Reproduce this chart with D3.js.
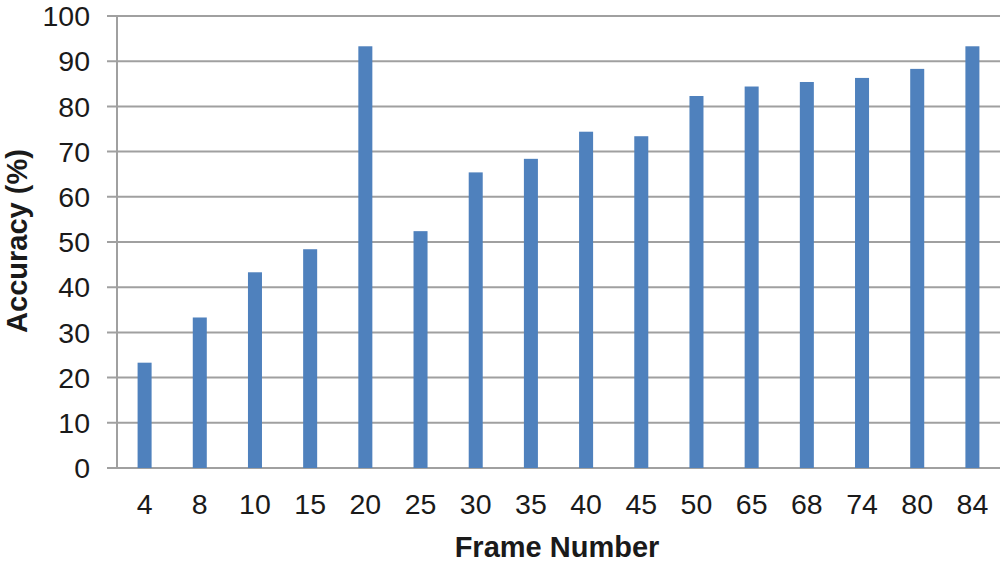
<!DOCTYPE html>
<html>
<head>
<meta charset="utf-8">
<script src="https://cdn.jsdelivr.net/npm/d3@7"></script>
<style>
  body { margin: 0; background: #fff; }
  svg { display: block; font-family: "Liberation Sans", Arial, sans-serif; }
</style>
</head>
<body>
<div id="chart"></div>
<script>
// datos
const frames = ["4", "8", "10", "15", "20", "25", "30", "35", "40", "45", "50", "65", "68", "74", "80", "84"];
const accuracy = [23.3, 33.3, 43.3, 48.4, 93.3, 52.4, 65.4, 68.4, 74.4, 73.4, 82.3, 84.4, 85.4, 86.3, 88.3, 93.3];
const yTicks = [0, 10, 20, 30, 40, 50, 60, 70, 80, 90, 100];

const width = 1000;
const height = 564;
const margin = { top: 16, right: 0, bottom: 96, left: 117 };

const svg = d3.select("#chart")
  .append("svg")
  .attr("width", width)
  .attr("height", height);

const x = d3.scaleBand()
  .domain(frames)
  .range([margin.left, width - margin.right])
  .paddingInner(0.746)
  .paddingOuter(0.373);

const y = d3.scaleLinear()
  .domain([0, 100])
  .range([height - margin.bottom, margin.top]);

// Lineas de cuadricula
svg.append("g")
  .selectAll("line")
  .data(yTicks)
  .join("line")
  .attr("x1", margin.left - 10)
  .attr("x2", width)
  .attr("y1", d => y(d))
  .attr("y2", d => y(d))
  .attr("stroke", "#a0a0a0")
  .attr("stroke-width", 2);

// Eje vertical
svg.append("line")
  .attr("x1", margin.left)
  .attr("x2", margin.left)
  .attr("y1", y(100))
  .attr("y2", y(0))
  .attr("stroke", "#a0a0a0")
  .attr("stroke-width", 2);

// Barras
svg.append("g")
  .selectAll("rect")
  .data(frames)
  .join("rect")
  .attr("x", d => x(d))
  .attr("width", x.bandwidth())
  .attr("y", (d, i) => y(accuracy[i]))
  .attr("height", (d, i) => y(0) - y(accuracy[i]))
  .attr("fill", "#4f81bd");

// Etiquetas eje Y
svg.append("g")
  .selectAll("text")
  .data(yTicks)
  .join("text")
  .attr("x", 90)
  .attr("y", d => y(d))
  .attr("dy", "0.36em")
  .attr("text-anchor", "end")
  .style("font-size", "28.5px")
  .attr("fill", "#1a1a1a")
  .text(d => d);

// Etiquetas eje X
svg.append("g")
  .selectAll("text")
  .data(frames)
  .join("text")
  .attr("x", d => x(d) + x.bandwidth() / 2)
  .attr("y", 514)
  .attr("text-anchor", "middle")
  .style("font-size", "28.5px")
  .attr("fill", "#1a1a1a")
  .text(d => d);

// Titulos de ejes
svg.append("text")
  .attr("x", 557)
  .attr("y", 557)
  .attr("text-anchor", "middle")
  .style("font-size", "29px")
  .style("font-weight", "bold")
  .attr("fill", "#1a1a1a")
  .text("Frame Number");

svg.append("text")
  .attr("transform", "translate(27,241) rotate(-90)")
  .attr("text-anchor", "middle")
  .style("font-size", "29px")
  .style("font-weight", "bold")
  .attr("fill", "#1a1a1a")
  .text("Accuracy (%)");
</script>
</body>
</html>
